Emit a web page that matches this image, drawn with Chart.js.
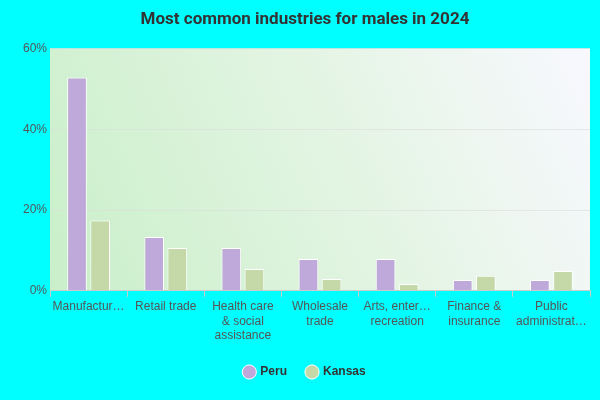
<!DOCTYPE html>
<html>
<head>
<script src="https://cdn.jsdelivr.net/npm/chart.js@4"></script>
<style>
  body { margin: 0; background: #00ffff; }
  #wrap { width: 600px; height: 400px; position: relative; }
</style>
</head>
<body>
<div id="wrap"><canvas id="c"></canvas></div>
<script>
const categories = [
    ['Manufactur…'], ['Retail trade'], ['Health care', '& social', 'assistance'],
    ['Wholesale', 'trade'], ['Arts, enter…', 'recreation'], ['Finance &', 'insurance'], ['Public', 'administrat…']
];
const peru = [52.8, 13.3, 10.6, 7.9, 7.9, 2.7, 2.7];
const kansas = [17.4, 10.6, 5.4, 2.9, 1.7, 3.7, 4.9];
const yTicks = [0, 20, 40, 60];

// gradient plot background
const plotBg = {
    id: 'plotBg',
    beforeDraw(chart) {
        const { ctx, chartArea: a } = chart;
        const g = ctx.createLinearGradient(a.left, a.bottom, a.right, a.top);
        g.addColorStop(0, '#c9efc9');
        g.addColorStop(0.6, '#e6f5e6');
        g.addColorStop(1, '#f8f8ff');
        ctx.save();
        ctx.fillStyle = g;
        ctx.fillRect(a.left, a.top, a.right - a.left, a.bottom - a.top);
        ctx.restore();
    }
};

new Chart(document.getElementById('c'), {
    type: 'bar',
    data: {
        labels: categories,
        datasets: [
            { label: 'Peru', data: peru, backgroundColor: '#bfa9da', borderColor: '#ffffff', borderWidth: 1 },
            { label: 'Kansas', data: kansas, backgroundColor: '#c5d9a8', borderColor: '#ffffff', borderWidth: 1 }
        ]
    },
    options: {
        responsive: true,
        maintainAspectRatio: false,
        animation: false,
        layout: { padding: { right: 10, left: 20, bottom: 12 } },
        datasets: { bar: { categoryPercentage: 0.6, barPercentage: 0.85 } },
        plugins: {
            title: {
                display: true, text: 'Most common industries for males in 2024',
                color: '#333', font: { size: 17, weight: 'bold', family: 'Roboto' },
                padding: { top: 10, bottom: 18 }
            },
            legend: {
                position: 'bottom',
                labels: { usePointStyle: true, pointStyle: 'circle', boxWidth: 10, boxHeight: 10, color: '#333', font: { weight: 'bold', size: 12 }, padding: 20 }
            }
        },
        scales: {
            y: {
                min: 0, max: 60,
                afterBuildTicks: (ax) => { ax.ticks = yTicks.map(v => ({ value: v })); },
                ticks: { color: '#555', font: { size: 12 }, callback: v => v + '%' },
                grid: { color: 'rgba(220,220,220,0.6)', drawTicks: false },
                border: { display: false }
            },
            x: {
                ticks: { color: '#555', font: { size: 12 }, maxRotation: 0, autoSkip: false },
                grid: { display: true, color: '#ccc', drawOnChartArea: false, offset: true, tickLength: 6 },
                border: { color: '#ccc' }
            }
        }
    },
    plugins: [plotBg]
});
</script>
</body>
</html>
